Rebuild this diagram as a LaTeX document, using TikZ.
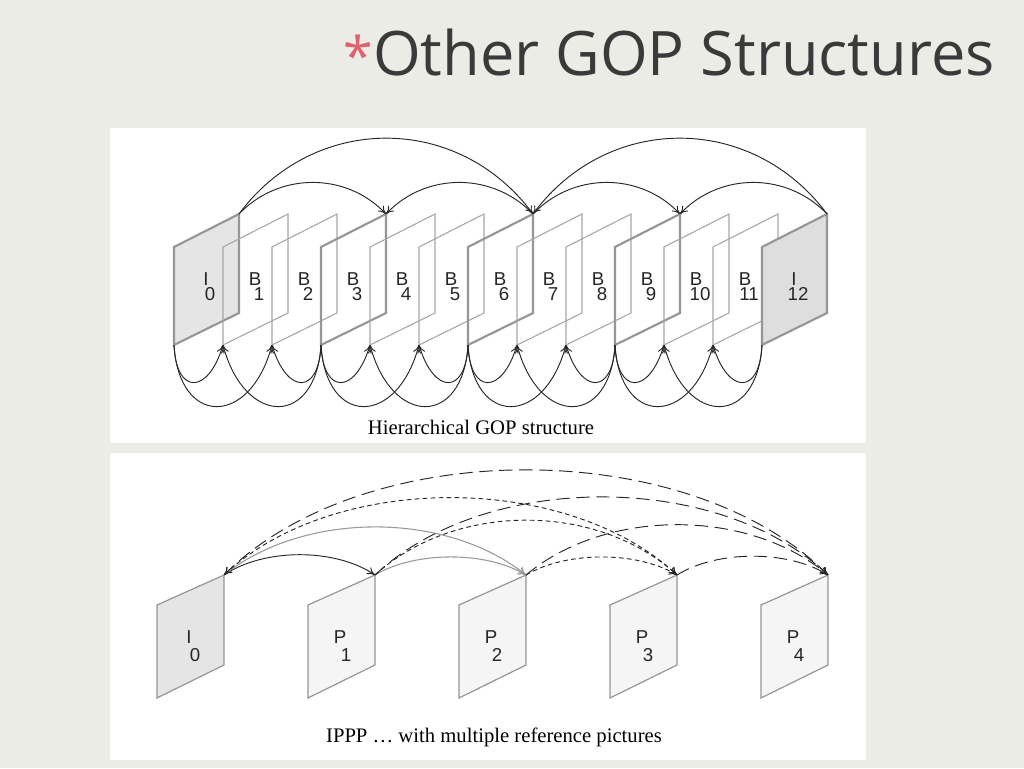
\documentclass[tikz,border=0pt]{standalone}
\usepackage{fontspec}
\setmainfont{Liberation Serif}
\newfontfamily\lsans{Liberation Sans}
\newfontfamily\tfont{Open Sans}
\usetikzlibrary{arrows.meta}
\definecolor{bgc}{RGB}{236,236,231}
\definecolor{titlec}{RGB}{58,58,58}
\definecolor{starc}{RGB}{222,98,110}
\definecolor{frc}{RGB}{150,150,150}
\begin{document}
\begin{tikzpicture}[x=0.75pt,y=-0.75pt,
  >={To[length=6pt,width=6pt]},
  arr/.style={->,line width=0.7pt,black!85},
  garr/.style={->,line width=0.8pt,black!40},
  sdash/.style={->,line width=0.7pt,black!85,dash pattern=on 3.5pt off 2.5pt},
  ldash/.style={->,line width=0.7pt,black!85,dash pattern=on 10pt off 5pt},
  thinfr/.style={draw=frc!85,line width=0.8pt},
  thickfr/.style={draw=frc,line width=1.6pt},
  lab/.style={font=\lsans\fontsize{14}{14}\selectfont,text=black!85},
  captxt/.style={font=\fontsize{15.5}{15.5}\selectfont}]
\fill[bgc] (0,0) rectangle (1024,768);
\useasboundingbox (0,0) rectangle (1024,768);
\fill[white] (110,128) rectangle (866,443);
\fill[white] (110,453) rectangle (866,760);
% title
\node[anchor=base east,inner sep=0,font=\tfont\fontsize{46}{46}\selectfont,text=titlec] (title) at (995,75) {Other GOP Structures};
\node[anchor=base east,inner sep=0,font=\tfont\fontsize{40}{40}\selectfont,text=starc] (star) at (title.base west) {*};
% top frames
\foreach \i/\l in {0/I,1/B,2/B,3/B,4/B,5/B,6/B,7/B,8/B,9/B,10/B,11/B,12/I}{
  \pgfmathsetmacro\x{174+49*\i}
  \pgfmathtruncatemacro\m{mod(\i,3)}
  \ifnum\m=0
    \ifnum\i=0 \def\ff{black!10}\else\ifnum\i=12 \def\ff{black!13}\else\def\ff{none}\fi\fi
    \path[thickfr,fill=\ff] (\x,247) -- (\x+65,214) -- (\x+65,313) -- (\x,345) -- cycle;
  \else
    \path[thinfr] (\x,247) -- (\x+65,214) -- (\x+65,313) -- (\x,345) -- cycle;
  \fi
  \coordinate (T\i) at (\x+65,214);
  \coordinate (L\i) at (\x,345);
  \node[lab] (fl\i) at (\x+32,279) {\l};
  \node[lab] (fn\i) at (\x+36,294) {\i};
}
% top arcs
\draw[arr] (T0) .. controls +(75,-101) and +(-75,-101) .. (T6);
\draw[arr] (T12) .. controls +(-75,-101) and +(75,-101) .. (T6);
\draw[arr] (T0) .. controls +(40,-42) and +(-40,-42) .. (T3);
\draw[arr] (T6) .. controls +(-40,-42) and +(40,-42) .. (T3);
\draw[arr] (T6) .. controls +(40,-42) and +(-40,-42) .. (T9);
\draw[arr] (T12) .. controls +(-40,-42) and +(40,-42) .. (T9);
% bottom loops
\foreach \g/\a/\b/\c in {0/1/2/3,3/4/5/6,6/7/8/9,9/10/11/12}{
  \draw[arr] (L\g) .. controls +(2,50) and +(-15,50) .. (L\a);
  \draw[arr] (L\c) .. controls +(-2,50) and +(15,50) .. (L\b);
  \draw[arr] (L\g) .. controls +(5,82) and +(-22,82) .. (L\b);
  \draw[arr] (L\c) .. controls +(-5,82) and +(22,82) .. (L\a);
}
\node[captxt] (cap1) at (481,427) {Hierarchical GOP structure};
% bottom frames
\foreach \i/\l in {0/I,1/P,2/P,3/P,4/P}{
  \pgfmathsetmacro\x{157+151*\i}
  \ifnum\i=0 \def\ff{black!10}\else\def\ff{black!4}\fi
  \path[draw=frc,line width=0.9pt,fill=\ff] (\x,605) -- (\x+67,575) -- (\x+67,665) -- (\x,698) -- cycle;
  \coordinate (P\i) at (\x+67,575);
  \node[lab] (pl\i) at (\x+32,637) {\l};
  \node[lab] (pn\i) at (\x+38,655) {\i};
}
% bottom arcs
\draw[arr] (P0) .. controls +(40,-27) and +(-40,-27) .. (P1);
\draw[garr] (P0) .. controls +(80,-64) and +(-80,-64) .. (P2);
\draw[garr] (P1) .. controls +(40,-24) and +(-40,-24) .. (P2);
\draw[sdash,<->] (P0) .. controls +(110,-103) and +(-110,-103) .. (P3);
\draw[sdash] (P1) .. controls +(80,-73) and +(-80,-73) .. (P3);
\draw[sdash] (P2) .. controls +(40,-24) and +(-40,-24) .. (P3);
\draw[ldash,<->] (P0) .. controls +(140,-140) and +(-140,-140) .. (P4);
\draw[ldash] (P1) .. controls +(110,-104) and +(-110,-104) .. (P4);
\draw[ldash] (P2) .. controls +(80,-67) and +(-80,-67) .. (P4);
\draw[ldash] (P3) .. controls +(40,-25) and +(-40,-25) .. (P4);
\node[captxt] (cap2) at (494,737) {IPPP \dots\ with multiple reference pictures};
\end{tikzpicture}
\end{document}
